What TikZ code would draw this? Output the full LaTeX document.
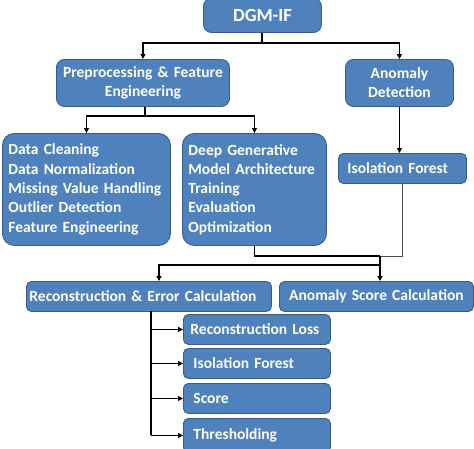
\documentclass[tikz,border=0pt]{standalone}
\usepackage{fontspec}
\setmainfont{Carlito}
\usetikzlibrary{arrows.meta}
\definecolor{boxfill}{HTML}{4F81BD}
\definecolor{boxline}{HTML}{385D8A}
\tikzset{
  box/.style={draw=boxline, line width=0.9pt, fill=boxfill, text=white,
    font=\fontsize{15.5}{19.3}\selectfont\bfseries, inner ysep=0pt,
    rounded corners=5pt, anchor=north west},
  bigbox/.style={box, rounded corners=12pt},
  midbox/.style={box, rounded corners=8pt},
  conn/.style={draw=black, line width=1.3pt},
  arr/.style={conn, -{Triangle[length=5pt,width=5pt]}},
}
\begin{document}
\begin{tikzpicture}[x=1pt, y=-1pt]
\useasboundingbox[fill=white] (0,0) rectangle (474,448);
% top
\node[midbox, minimum width=118, minimum height=34, align=center, font=\fontsize{18.5}{20}\selectfont\bfseries] (dgm) at (203,-2) {\raisebox{-3pt}{DGM-IF}};
\node[midbox, minimum width=173, minimum height=47, align=center, text width=165] (pre) at (56,59) {Preprocessing \& Feature\\Engineering};
\node[midbox, minimum width=108, minimum height=47, align=center, text width=100] (anom) at (345,59) {Anomaly\\Detection};
% second row
\node[bigbox, minimum width=168, minimum height=112, align=left, inner xsep=6pt, text width=156] (clean) at (2,133)
  {Data Cleaning\\Data Normalization\\Missing Value Handling\\Outlier Detection\\Feature Engineering};
\node[bigbox, minimum width=144, minimum height=112, align=left, inner xsep=6pt, text width=132] (deep) at (182,133)
  {Deep Generative\\Model Architecture\\Training\\Evaluation\\Optimization};
\node[box, minimum width=128, minimum height=30, align=left, inner xsep=9pt, text width=110] (iso) at (338,153) {Isolation Forest};
% third row
\node[box, minimum width=245, minimum height=30, align=left, inner xsep=3pt, text width=239] (recon) at (26,281) {Reconstruction \& Error Calculation};
\node[box, minimum width=194, minimum height=30, align=center, inner xsep=4pt, text width=186] (score) at (279,281) {Anomaly Score Calculation};
% bottom list
\node[box, minimum width=147, minimum height=30, align=left, inner xsep=7pt, text width=133] (rl) at (183,314) {Reconstruction Loss};
\node[box, minimum width=147, minimum height=30, align=left, inner xsep=10pt, text width=127] (if2) at (183,348) {Isolation Forest};
\node[box, minimum width=147, minimum height=30, align=left, inner xsep=10pt, text width=127] (sc) at (183,383) {Score};
\node[box, minimum width=147, minimum height=34, align=left, inner xsep=10pt, text width=127] (thr) at (183,418) {Thresholding};
% connectors
\coordinate (j1) at (262,43);
\draw[conn] (dgm.south -| j1) -- (j1);
\draw[arr] (j1) -| (pre.north);
\draw[arr] (j1) -| (anom.north);
\coordinate (j2) at (145,116);
\draw[conn] (pre.south -| j2) -- (j2);
\draw[arr] (j2) -| (clean.north);
\draw[arr] (j2) -| (deep.north);
\draw[arr] (anom.south) -- (anom.south |- iso.north);
\coordinate (m1) at (380,256);
\coordinate (m2) at (380,265);
\coordinate (s1) at (159,265);
\draw[conn] (deep.south) |- (m1);
\draw[conn, draw=black!70, line width=1pt] (iso.south) -- (iso.south |- m1) -- (m1);
\draw[conn] (m1) -- (m2);
\draw[arr] (m2) -- (s1) -- (s1 |- recon.north);
\draw[arr] (m2) -- (m2 |- score.north);
\coordinate (t) at (151,311);
\draw[conn] (t) -- (t |- thr.west);
\draw[arr] (t |- rl.west) -- (rl.west);
\draw[arr] (t |- if2.west) -- (if2.west);
\draw[arr] (t |- sc.west) -- (sc.west);
\draw[arr] (t |- thr.west) -- (thr.west);
\end{tikzpicture}
\end{document}
